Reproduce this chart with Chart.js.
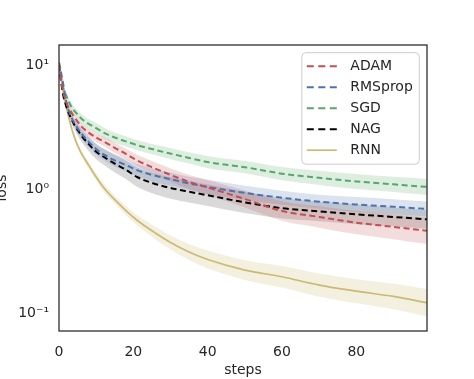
<!DOCTYPE html>
<html><head><meta charset="utf-8">
<script src="https://cdn.jsdelivr.net/npm/chart.js@4.4.1/dist/chart.umd.min.js"></script>
<style>html,body{margin:0;padding:0;background:#fff;}canvas{display:block;}</style>
</head><body>
<canvas id="c" width="474" height="379"></canvas>
<script>
// ---- data ----
const steps   = [0, 1, 2, 3, 4, 5, 6, 8, 10, 12, 15, 18, 21, 25, 30, 35, 40, 50, 60, 70, 80, 90, 99];
const adam    = [10, 6.3, 5.0, 4.3, 3.85, 3.5, 3.2, 2.85, 2.6, 2.42, 2.15, 1.92, 1.7, 1.5, 1.3, 1.14, 1.03, 0.83, 0.665, 0.595, 0.535, 0.495, 0.46];
const rmsprop = [10.5, 7.4, 5.0, 4.0, 3.45, 3.1, 2.8, 2.4, 2.1, 1.9, 1.7, 1.56, 1.42, 1.3, 1.2, 1.11, 1.04, 0.93, 0.85, 0.79, 0.75, 0.72, 0.69];
const sgd     = [10, 6.8, 5.6, 4.8, 4.3, 4.0, 3.7, 3.35, 3.1, 2.85, 2.6, 2.42, 2.26, 2.1, 1.93, 1.78, 1.65, 1.5, 1.33, 1.23, 1.15, 1.09, 1.04];
const nag     = [10, 6.0, 4.6, 3.85, 3.35, 3.0, 2.7, 2.3, 2.0, 1.82, 1.6, 1.43, 1.25, 1.12, 1.02, 0.95, 0.89, 0.78, 0.70, 0.66, 0.625, 0.595, 0.57];
const rnn     = [10, 6.6, 4.6, 3.4, 2.7, 2.25, 1.95, 1.55, 1.25, 1.03, 0.82, 0.67, 0.56, 0.46, 0.37, 0.31, 0.27, 0.222, 0.196, 0.168, 0.15, 0.136, 0.121];
// multiplicative half-width of the shaded bands
const adamSpread    = [1.02, 1.04, 1.05, 1.06, 1.06, 1.07, 1.07, 1.08, 1.08, 1.09, 1.1, 1.1, 1.11, 1.12, 1.13, 1.14, 1.15, 1.17, 1.2, 1.22, 1.24, 1.26, 1.28];
const rmspropSpread = [1.02, 1.05, 1.06, 1.07, 1.08, 1.09, 1.1, 1.1, 1.11, 1.11, 1.12, 1.12, 1.12, 1.13, 1.13, 1.13, 1.14, 1.14, 1.14, 1.14, 1.15, 1.15, 1.15];
const sgdSpread     = [1.02, 1.05, 1.06, 1.07, 1.08, 1.08, 1.09, 1.09, 1.1, 1.1, 1.1, 1.1, 1.1, 1.1, 1.11, 1.11, 1.12, 1.12, 1.13, 1.14, 1.15, 1.15, 1.16];
const nagSpread     = [1.02, 1.05, 1.07, 1.09, 1.1, 1.11, 1.12, 1.14, 1.15, 1.16, 1.18, 1.19, 1.2, 1.21, 1.22, 1.22, 1.22, 1.22, 1.21, 1.2, 1.2, 1.19, 1.19];
const rnnSpread     = [1.02, 1.04, 1.05, 1.05, 1.06, 1.06, 1.06, 1.07, 1.07, 1.08, 1.08, 1.09, 1.1, 1.12, 1.14, 1.16, 1.18, 1.2, 1.22, 1.24, 1.25, 1.27, 1.29];
const seriesNames = ['ADAM', 'RMSprop', 'SGD', 'NAG', 'RNN'];
const xTickValues = [0, 20, 40, 60, 80];
const yTickValues = [0.1, 1, 10];
const yTickLabels = ['10\u207B\u00B9', '10\u2070', '10\u00B9'];

// ---- styling ----
const series = [
  {name: seriesNames[0], values: adam,    spread: adamSpread,    color: '#C44E52', band: 'rgba(196,78,82,0.2)',    dash: [6, 3.5]},
  {name: seriesNames[1], values: rmsprop, spread: rmspropSpread, color: '#4C72B0', band: 'rgba(76,114,176,0.2)',   dash: [6, 3.5]},
  {name: seriesNames[2], values: sgd,     spread: sgdSpread,     color: '#55A868', band: 'rgba(85,168,104,0.2)',   dash: [6, 3.5]},
  {name: seriesNames[3], values: nag,     spread: nagSpread,     color: '#000000', band: 'rgba(0,0,0,0.15)',       dash: [6, 3.5]},
  {name: seriesNames[4], values: rnn,     spread: rnnSpread,     color: '#CCB974', band: 'rgba(204,185,116,0.22)', dash: []}
];

const datasets = [];
series.forEach(s => {
  datasets.push({
    label: s.name + ' lower', isBand: true,
    data: steps.map((x, i) => ({x, y: s.values[i] / s.spread[i]})),
    borderWidth: 0, pointRadius: 0, fill: false, order: 2,
    cubicInterpolationMode: 'monotone', borderColor: 'rgba(0,0,0,0)'
  });
  datasets.push({
    label: s.name + ' upper', isBand: true,
    data: steps.map((x, i) => ({x, y: s.values[i] * s.spread[i]})),
    borderWidth: 0, pointRadius: 0, fill: '-1', backgroundColor: s.band, order: 2,
    cubicInterpolationMode: 'monotone', borderColor: 'rgba(0,0,0,0)'
  });
});
series.forEach(s => {
  datasets.push({
    label: s.name,
    data: steps.map((x, i) => ({x, y: s.values[i]})),
    borderColor: s.color, borderWidth: s.dash.length ? 2 : 1.7, borderDash: s.dash,
    pointRadius: 0, fill: false, order: 0, cubicInterpolationMode: 'monotone'
  });
});

const FONT = '"DejaVu Sans", sans-serif';
const FS = 14;
const TEXT = '#262626';

const framePlugin = {
  id: 'frame',
  afterDatasetsDraw(chart) {
    const {ctx, chartArea: a} = chart;
    ctx.save();
    ctx.strokeStyle = '#262626';
    ctx.lineWidth = 1.25;
    ctx.strokeRect(a.left, a.top, a.right - a.left, a.bottom - a.top);
    ctx.restore();
  }
};

const legendPlugin = {
  id: 'boxLegend',
  afterDraw(chart) {
    const {ctx, chartArea: a} = chart;
    const lines = chart.data.datasets.filter(d => !d.isBand);
    const w = 117.5, h = 111.5;
    const x0 = a.right - 7.7 - w, y0 = a.top + 7.7;
    ctx.save();
    ctx.beginPath();
    ctx.roundRect(x0, y0, w, h, 4);
    ctx.fillStyle = 'rgba(255,255,255,0.8)';
    ctx.fill();
    ctx.strokeStyle = '#cccccc';
    ctx.lineWidth = 1;
    ctx.stroke();
    ctx.font = FS + 'px ' + FONT;
    ctx.textBaseline = 'middle';
    ctx.textAlign = 'left';
    lines.forEach((d, i) => {
      const yy = y0 + 13.5 + i * 21;
      ctx.beginPath();
      ctx.setLineDash(d.borderDash && d.borderDash.length ? [7, 4.5] : []);
      ctx.strokeStyle = d.borderColor;
      ctx.lineWidth = d.borderWidth;
      ctx.moveTo(x0 + 5, yy);
      ctx.lineTo(x0 + 35, yy);
      ctx.stroke();
      ctx.setLineDash([]);
      ctx.fillStyle = TEXT;
      ctx.fillText(d.label, x0 + 48.5, yy + 0.5);
    });
    ctx.restore();
  }
};

new Chart(document.getElementById('c'), {
  type: 'line',
  data: {datasets},
  options: {
    responsive: false,
    animation: false,
    layout: {padding: {left: 0, right: 47, top: 45, bottom: 0}},
    plugins: {legend: {display: false}, tooltip: {enabled: false}},
    scales: {
      x: {
        type: 'linear', min: 0, max: 99,
        grid: {display: false, drawTicks: false},
        border: {display: false},
        afterBuildTicks: sc => { sc.ticks = xTickValues.map(v => ({value: v})); },
        afterFit: sc => { sc.height = 48; },
        ticks: {padding: 13, color: TEXT, font: {family: FONT, size: FS}, maxRotation: 0},
        title: {display: true, text: 'steps', color: TEXT, font: {family: FONT, size: FS}, padding: {top: 0, bottom: 0}}
      },
      y: {
        type: 'logarithmic', min: 0.0716, max: 14.5,
        grid: {display: false, drawTicks: false},
        border: {display: false},
        afterBuildTicks: sc => { sc.ticks = yTickValues.map(v => ({value: v})); },
        afterFit: sc => { sc.width = 59; },
        ticks: {
          padding: 10, color: TEXT, font: {family: FONT, size: FS},
          callback: v => { const k = yTickValues.indexOf(v); return k >= 0 ? yTickLabels[k] : ''; }
        },
        title: {display: true, text: 'loss', color: TEXT, font: {family: FONT, size: FS}, padding: {top: -5.8, bottom: 0}}
      }
    }
  },
  plugins: [framePlugin, legendPlugin]
});
</script>
</body></html>
